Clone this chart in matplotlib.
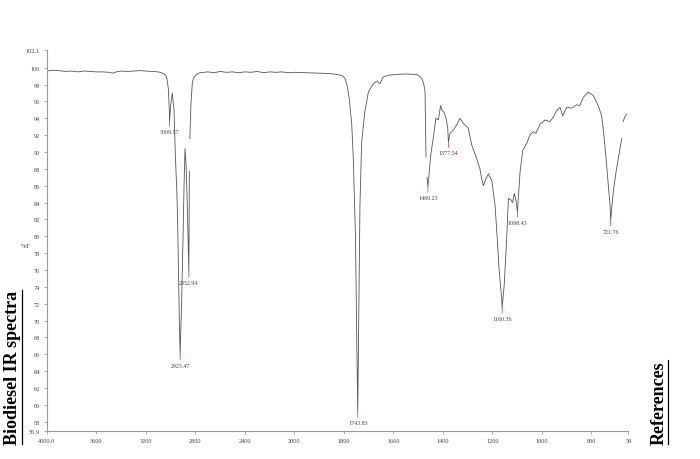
import numpy as np
import matplotlib
matplotlib.use("Agg")
import matplotlib.pyplot as plt
from matplotlib.lines import Line2D

# --- data (wavenumber cm-1, %T) ---
nan = np.nan
wavenumber = [4000, 3950, 3900, 3850, 3800, 3750, 3700, 3650, 3600, 3550, 3500, 3466, 3440, 3400,
              3350, 3300, 3250, 3200, 3150, 3100, 3087, 3060, 3040, 3030, 3019, 3011, 3009.57, 3000,
              2987, 2973, 2962, 2951, 2944, 2937, 2930, 2923.47, 2912, 2900, 2892, 2884, 2876, 2868,
              2860, 2852.94, 2849, 2847, 2845, 2835, 2825, 2817, 2800, 2780, 2763, 2700, 2650, 2600,
              2550, 2500, 2450, 2400, 2350, 2300, 2250, 2200, 2150, 2100, 2050, 2000, 1950, 1900,
              1856, 1820, 1804, 1795, 1786, 1778, 1768, 1762, 1753, 1748, 1743.83, 1740, 1735, 1728,
              1715, 1701, 1681, 1667, 1654, 1641, 1620, 1587, 1550, 1506, 1495, 1485, 1478, 1472,
              1468, 1466, 1464, 1460.23, 1456, 1449, 1439, 1428, 1418, 1409, 1402, 1395, 1387, 1380,
              1377.54, 1371, 1358, 1344, 1331, 1317, 1297, 1283, 1263, 1250, 1243, 1236, 1226, 1216,
              1202, 1189, 1180, 1172, 1162, 1160.36, 1152, 1142, 1135, 1124, 1118, 1111, 1104,
              1098.43, 1088, 1077, 1061, 1048, 1034, 1024, 1007, 987, 967, 952, 940, 926, 916, 899,
              879, 859, 846, 832, 812, 792, 772, 758, 749, 740, 731, 724, 721.76, 711, 700, 691, 677,
              674, 671, 664, 657]
transmittance = [99.6, 99.7, 99.65, 99.55, 99.6, 99.5, 99.6, 99.55, 99.5, 99.5, 99.45, 99.35, 99.5, 99.6,
                 99.55, 99.6, 99.65, 99.6, 99.55, 99.5, 99.45, 99.3, 99.1, 98.7, 97.5, 95.0, 93.7, 95.5,
                 97.0, 95.0, 89.5, 85.6, 82.0, 76.0, 70.0, 66.0, 72.0, 80.0, 86.0, 90.4, 88.5, 85.0,
                 80.0, 75.8, 87.7, nan, 91.6, 96.0, 98.2, 98.7, 99.1, 99.3, 99.4, 99.5, 99.4, 99.55,
                 99.45, 99.5, 99.4, 99.5, 99.45, 99.55, 99.4, 99.5, 99.45, 99.5, 99.4, 99.45, 99.4, 99.35,
                 99.3, 99.15, 99.0, 98.7, 97.8, 96.3, 93.2, 89.2, 80.0, 68.0, 59.2, 70.0, 83.7, 91.2,
                 94.8, 97.1, 98.1, 98.4, 98.1, 98.9, 99.1, 99.2, 99.25, 99.2, 99.0, 98.7, 98.2, 97.2,
                 89.4, nan, 87.0, 85.9, 87.2, 89.6, 91.6, 94.0, 93.8, 95.5, 94.9, 94.7, 94.0, 92.8,
                 91.2, 92.2, 92.6, 93.2, 94.0, 93.4, 92.8, 90.8, 89.2, 88.0, 86.8, 86.0, 86.8, 87.4,
                 86.6, 83.7, 79.7, 75.8, 72.6, 71.5, 74.2, 79.7, 84.5, 84.3, 84.0, 85.1, 84.2,
                 82.9, 87.6, 90.2, 91.0, 92.0, 92.4, 92.2, 93.3, 93.8, 93.6, 94.2, 94.9, 95.3, 94.3, 95.3,
                 95.2, 95.6, 95.5, 96.5, 97.1, 96.7, 95.5, 94.3, 92.0, 89.2, 86.0, 83.7, 81.9, 85.3, 87.6, 89.2, 91.6,
                 nan, 93.6, 94.2, 94.5]

peak_wn = [3009.57, 2923.47, 2852.94, 1743.83, 1460.23, 1377.54, 1160.36, 1098.43, 721.76]
peak_T = [93.7, 66.0, 75.8, 59.2, 85.9, 91.2, 71.5, 82.9, 81.9]

x_ticks = [4000, 3600, 3200, 2800, 2400, 2000, 1800, 1600, 1400, 1200, 1000, 800, 650]
x_ticklabels = ["4000.0", "3600", "3200", "2800", "2400", "2000", "1800", "1600", "1400",
                "1200", "1000", "800", "59"]
y_ticks = [56.9] + list(range(58, 101, 2)) + [102.1]
y_ticklabels = ["56.9"] + [str(v) for v in range(58, 101, 2)] + ["102.1"]


# x axis is expanded 2x below 2000 cm-1
def fwd(w):
    w = np.asarray(w, dtype=float)
    return np.where(w >= 2000, w, 2 * w - 2000)


def inv(u):
    u = np.asarray(u, dtype=float)
    return np.where(u >= 2000, u, (u + 2000) / 2)


SERIF = "Liberation Serif"
GREY = "#444444"

fig = plt.figure(figsize=(7, 4.6), dpi=100)
ax = fig.add_axes([0.0671, 0.0609, 0.8306, 0.8283])
ax.set_xscale("function", functions=(fwd, inv))
ax.plot(wavenumber, transmittance, color="#555555", lw=0.6)
ax.set_xlim(4000, 650)
ax.set_ylim(56.9, 102.1)

ax.set_xticks(x_ticks)
ax.set_xticklabels(x_ticklabels)
ax.set_yticks(y_ticks)
ax.set_yticklabels(y_ticklabels)
ax.xaxis.set_minor_locator(matplotlib.ticker.NullLocator())
ax.tick_params(axis="both", labelsize=4.5, colors="#888888", length=2, width=0.5,
               labelcolor=GREY, pad=3)
for lab in ax.get_xticklabels() + ax.get_yticklabels():
    lab.set_fontfamily(SERIF)

for side in ["top", "right"]:
    ax.spines[side].set_visible(False)
for side in ["left", "bottom"]:
    ax.spines[side].set_color("#999999")
    ax.spines[side].set_linewidth(0.8)

# peak labels with small red markers
for w, t in zip(peak_wn, peak_T):
    ax.annotate(f"{w:.2f}", xy=(w, t), xytext=(0, -6), textcoords="offset points",
                ha="center", va="top", fontsize=4.3, family=SERIF, color=GREY,
                arrowprops=dict(arrowstyle="-", color="#e03030", lw=0.5, shrinkA=0, shrinkB=0))

fig.text(0.036, 0.465, "%T", fontsize=4.8, family=SERIF, color=GREY, ha="center", va="center")

t1 = fig.text(0.018, 0.033, "Biodiesel IR spectra", rotation=90, fontsize=13,
              fontweight="bold", family=SERIF, ha="center", va="bottom")
t2 = fig.text(0.941, 0.033, "References", rotation=90, fontsize=13,
              fontweight="bold", family=SERIF, ha="center", va="bottom")

# underline the rotated labels (baseline lies on the right side)
fig.canvas.draw()
r = fig.canvas.get_renderer()
for t in (t1, t2):
    bb = t.get_window_extent(r).transformed(fig.transFigure.inverted())
    xl = bb.x1 + 0.001
    fig.add_artist(Line2D([xl, xl], [bb.y0, bb.y1], color="black", lw=0.9,
                          transform=fig.transFigure))

fig.savefig("out.png", dpi=100)
